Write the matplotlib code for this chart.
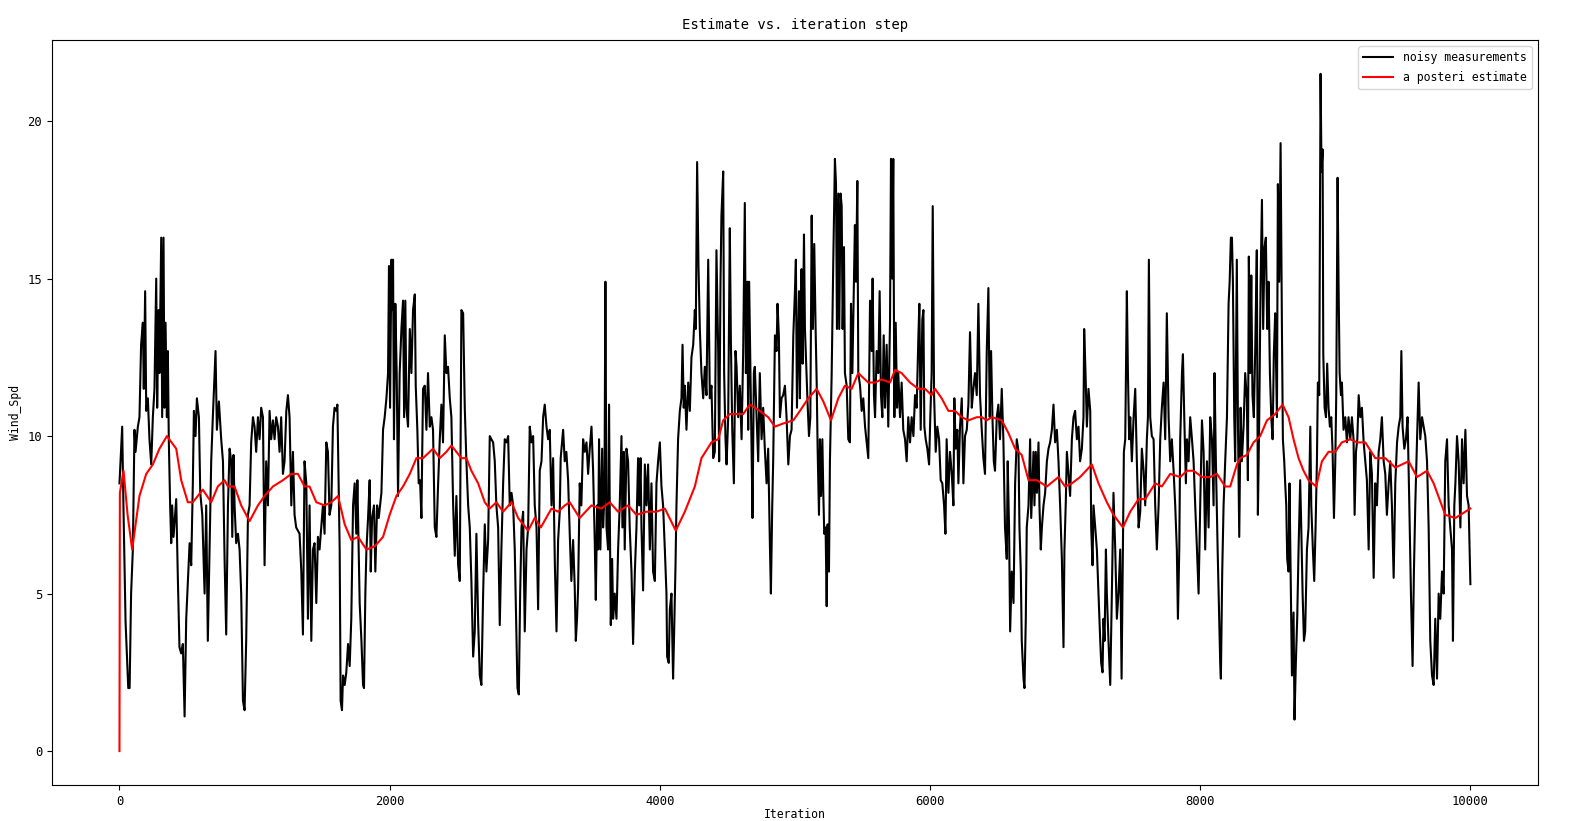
import matplotlib
matplotlib.use("Agg")
import matplotlib.pyplot as plt

plt.rcParams['font.family'] = ['DejaVu Sans Mono']
plt.rcParams['font.size'] = 8.3
plt.rcParams['xtick.labelsize'] = 8.8
plt.rcParams['ytick.labelsize'] = 8.8

noisy_points = [
    (0, 8.5), (20, 10.3), (30, 7.6), (45, 4.1), (65, 2.0), (75, 2.0), (86, 5.0), (99, 6.4),
    (111, 10.2), (119, 9.5), (136, 10.3), (148, 10.6), (160, 12.9), (173, 13.6), (180, 11.5),
    (190, 14.6), (198, 10.8), (210, 11.2), (222, 9.9), (235, 9.1), (247, 10.6), (259, 11.5),
    (272, 15.0), (279, 10.9), (289, 14.0), (296, 12.0), (309, 16.3), (316, 10.6), (326, 16.3),
    (333, 10.9), (341, 13.6), (351, 10.6), (358, 12.7), (365, 9.9), (375, 7.8), (383, 6.6),
    (390, 7.8), (400, 6.8), (420, 8.0), (432, 5.5), (444, 3.3), (457, 3.1), (469, 3.4),
    (482, 1.1), (494, 4.2), (519, 6.6), (531, 5.9), (543, 8.5), (551, 10.8), (563, 10.0),
    (573, 11.2), (588, 10.6), (598, 8.2), (613, 7.5), (630, 5.0), (642, 7.8), (654, 3.5),
    (667, 6.4), (679, 9.2), (691, 10.6), (711, 12.7), (721, 10.2), (736, 11.1), (753, 9.9),
    (766, 9.2), (778, 6.1), (790, 3.7), (803, 7.8), (815, 9.6), (827, 9.2), (835, 6.8),
    (844, 9.4), (852, 7.8), (864, 6.6), (877, 6.9), (889, 6.4), (901, 5.0), (914, 1.6),
    (926, 1.3), (938, 3.5), (951, 7.5), (963, 7.8), (975, 9.8), (988, 10.6), (1000, 10.3),
    (1012, 9.5), (1025, 10.6), (1037, 9.9), (1049, 10.9), (1062, 10.6), (1074, 5.9),
    (1086, 9.2), (1099, 7.8), (1111, 10.8), (1123, 9.9), (1136, 10.5), (1148, 9.9),
    (1160, 10.6), (1173, 10.3), (1185, 9.5), (1197, 10.6), (1210, 8.8), (1222, 9.2),
    (1235, 10.8), (1247, 11.3), (1259, 10.6), (1272, 7.8), (1284, 9.5), (1296, 7.5),
    (1308, 7.1), (1333, 6.9), (1346, 5.7), (1358, 3.7), (1370, 9.2), (1383, 8.5), (1395, 4.2),
    (1407, 7.8), (1420, 3.5), (1432, 6.4), (1444, 6.6), (1457, 4.7), (1469, 6.8), (1481, 6.4),
    (1506, 7.8), (1518, 6.9), (1531, 9.8), (1543, 9.5), (1555, 7.5), (1568, 7.8), (1580, 10.3),
    (1592, 10.9), (1605, 10.8), (1613, 11.0), (1630, 6.4), (1637, 1.6), (1647, 1.3),
    (1655, 2.4), (1667, 2.1), (1679, 2.5), (1692, 3.4), (1704, 2.7), (1716, 4.2), (1729, 7.8),
    (1741, 8.5), (1753, 6.9), (1761, 8.6), (1771, 6.4), (1778, 4.7), (1791, 3.5), (1803, 2.1),
    (1810, 2.0), (1820, 5.0), (1828, 6.4), (1840, 7.4), (1852, 8.6), (1860, 5.7), (1870, 7.4),
    (1884, 7.8), (1894, 5.7), (1907, 7.8), (1919, 7.4), (1939, 8.2), (1951, 10.2), (1963, 10.6),
    (1976, 11.2), (1988, 12.0), (1995, 15.4), (2003, 10.9), (2013, 15.6), (2020, 14.0),
    (2025, 15.6), (2032, 9.9), (2042, 14.2), (2052, 12.0), (2062, 8.1), (2074, 12.0),
    (2087, 13.4), (2099, 14.3), (2107, 10.6), (2116, 14.3), (2124, 10.9), (2136, 10.3),
    (2149, 13.4), (2161, 12.0), (2173, 14.0), (2186, 14.5), (2193, 11.6), (2205, 10.2),
    (2215, 8.5), (2225, 8.6), (2235, 7.4), (2247, 11.5), (2260, 11.6), (2272, 10.2),
    (2284, 12.0), (2297, 10.3), (2309, 10.6), (2321, 10.2), (2334, 7.1), (2346, 6.8),
    (2358, 8.4), (2371, 9.9), (2383, 11.0), (2395, 9.8), (2408, 13.2), (2420, 12.0),
    (2432, 12.2), (2445, 11.2), (2457, 10.6), (2470, 7.8), (2482, 6.2), (2494, 8.1),
    (2507, 5.9), (2519, 5.4), (2531, 14.0), (2544, 13.9), (2556, 10.9), (2568, 9.2),
    (2581, 7.8), (2593, 7.1), (2605, 5.4), (2618, 3.0), (2630, 3.8), (2642, 6.9), (2655, 4.1),
    (2667, 2.4), (2679, 2.1), (2692, 5.0), (2704, 7.2), (2716, 5.7), (2729, 6.7), (2741, 10.0),
    (2753, 9.9), (2766, 9.8), (2778, 9.2), (2790, 7.8), (2803, 7.1), (2815, 4.0), (2827, 6.4),
    (2840, 8.5), (2852, 9.9), (2865, 9.8), (2877, 10.0), (2889, 7.8), (2902, 8.2), (2914, 7.8),
    (2926, 6.4), (2939, 3.5), (2946, 2.0), (2956, 1.8), (2966, 5.0), (2976, 7.1), (2988, 7.6),
    (3000, 3.8), (3013, 6.4), (3025, 7.1), (3037, 10.3), (3050, 9.8), (3062, 10.0), (3074, 7.8),
    (3087, 7.1), (3099, 4.5), (3111, 8.9), (3124, 9.2), (3136, 10.6), (3148, 11.0),
    (3161, 10.3), (3173, 9.9), (3185, 10.2), (3198, 7.8), (3210, 9.3), (3223, 5.9),
    (3235, 3.8), (3247, 6.7), (3259, 7.6), (3266, 9.3), (3284, 10.2), (3296, 9.2), (3308, 9.5),
    (3321, 8.6), (3333, 6.9), (3345, 5.4), (3358, 6.7), (3370, 5.2), (3378, 3.5), (3387, 4.2),
    (3395, 5.2), (3407, 8.5), (3419, 7.8), (3432, 9.9), (3444, 9.5), (3457, 9.8), (3469, 8.8),
    (3481, 9.6), (3494, 10.3), (3506, 8.9), (3518, 6.7), (3526, 4.8), (3536, 7.8), (3543, 6.4),
    (3550, 9.9), (3560, 6.4), (3573, 9.6), (3580, 7.1), (3590, 8.1), (3597, 14.9), (3605, 7.1),
    (3617, 6.4), (3624, 11.0), (3629, 7.8), (3637, 4.0), (3647, 6.1), (3654, 4.2), (3666, 5.0),
    (3679, 4.2), (3691, 6.4), (3703, 7.8), (3716, 10.0), (3723, 7.1), (3733, 9.5), (3740, 6.4),
    (3753, 9.6), (3765, 9.2), (3777, 7.1), (3790, 5.7), (3802, 3.4), (3815, 5.7), (3827, 7.1),
    (3839, 9.3), (3847, 7.8), (3857, 9.3), (3864, 7.1), (3876, 5.1), (3889, 9.1), (3901, 7.8),
    (3913, 9.1), (3926, 6.4), (3938, 8.5), (3950, 5.7), (3963, 5.4), (3975, 8.5), (3987, 9.2),
    (4000, 9.8), (4012, 8.4), (4024, 7.8), (4037, 6.4), (4049, 5.0), (4054, 3.0), (4066, 2.8),
    (4074, 4.5), (4086, 5.0), (4098, 2.3), (4106, 3.8), (4116, 5.9), (4123, 7.8), (4135, 9.9),
    (4148, 10.8), (4160, 11.2), (4168, 12.9), (4177, 10.9), (4185, 11.6), (4197, 10.2),
    (4210, 11.7), (4222, 10.8), (4234, 12.5), (4247, 12.9), (4259, 14.0), (4266, 13.4),
    (4276, 18.7), (4286, 15.4), (4296, 13.4), (4308, 12.0), (4321, 11.2), (4333, 12.2),
    (4345, 11.3), (4358, 15.6), (4370, 11.2), (4382, 11.6), (4395, 9.3), (4407, 9.5),
    (4419, 15.9), (4432, 12.7), (4439, 9.2), (4449, 14.9), (4456, 17.0), (4469, 18.4),
    (4476, 12.0), (4486, 9.9), (4494, 9.1), (4506, 10.6), (4518, 16.6), (4526, 13.0),
    (4536, 10.2), (4548, 8.5), (4560, 12.7), (4568, 12.2), (4580, 10.6), (4592, 11.6),
    (4605, 9.9), (4617, 12.7), (4629, 17.4), (4637, 12.0), (4647, 14.9), (4654, 10.2),
    (4661, 14.9), (4671, 12.0), (4679, 9.6), (4686, 7.4), (4696, 12.0), (4703, 12.2),
    (4716, 10.6), (4728, 9.2), (4740, 12.0), (4753, 9.9), (4765, 10.9), (4777, 9.6),
    (4790, 8.5), (4802, 9.6), (4814, 6.7), (4822, 5.0), (4832, 7.8), (4839, 9.2), (4852, 13.2),
    (4864, 12.7), (4871, 14.2), (4881, 13.2), (4889, 10.6), (4901, 11.2), (4913, 11.3),
    (4926, 11.6), (4938, 10.6), (4951, 9.1), (4963, 10.0), (4975, 10.2), (4988, 13.2),
    (5000, 14.6), (5007, 15.6), (5015, 10.9), (5025, 13.4), (5030, 14.6), (5037, 11.2),
    (5045, 14.6), (5049, 15.3), (5057, 12.3), (5067, 16.4), (5074, 13.4), (5086, 11.9),
    (5094, 11.0), (5104, 10.0), (5114, 10.6), (5124, 17.0), (5133, 13.4), (5143, 16.1),
    (5153, 13.4), (5161, 11.7), (5168, 9.6), (5178, 7.5), (5185, 9.9), (5193, 8.1), (5203, 9.9),
    (5210, 8.2), (5217, 6.9), (5227, 7.1), (5235, 4.6), (5242, 7.2), (5252, 5.7), (5259, 9.2),
    (5272, 12.0), (5284, 15.6), (5296, 18.8), (5304, 18.0), (5311, 13.4), (5321, 17.7),
    (5328, 13.4), (5338, 17.7), (5346, 17.3), (5353, 13.4), (5363, 16.0), (5370, 12.0),
    (5383, 11.6), (5395, 9.9), (5407, 9.8), (5415, 14.2), (5425, 12.0), (5432, 13.7),
    (5444, 16.7), (5452, 14.9), (5462, 18.1), (5469, 12.0), (5482, 11.6), (5494, 10.8),
    (5506, 11.2), (5519, 10.3), (5531, 9.8), (5543, 9.3), (5556, 14.3), (5568, 12.7),
    (5575, 15.0), (5585, 11.3), (5593, 10.6), (5605, 12.7), (5617, 12.0), (5627, 14.6),
    (5637, 11.3), (5647, 10.6), (5657, 13.2), (5667, 10.9), (5679, 12.9), (5691, 10.3),
    (5704, 13.7), (5711, 18.8), (5720, 15.0), (5728, 18.8), (5736, 10.6), (5746, 13.6),
    (5756, 10.9), (5765, 12.0), (5778, 10.6), (5790, 11.7), (5802, 10.2), (5815, 9.9),
    (5827, 9.2), (5839, 10.6), (5852, 9.8), (5864, 10.6), (5877, 10.0), (5889, 11.3),
    (5901, 10.9), (5914, 13.2), (5921, 14.2), (5931, 10.2), (5943, 13.7), (5951, 14.0),
    (5958, 10.3), (5968, 9.9), (5980, 9.6), (5993, 9.1), (6002, 10.6), (6012, 12.0),
    (6020, 17.3), (6030, 11.3), (6042, 9.5), (6054, 10.3), (6067, 9.9), (6079, 8.6),
    (6091, 8.5), (6104, 7.8), (6114, 6.9), (6123, 9.9), (6136, 8.2), (6148, 9.5), (6161, 8.8),
    (6173, 7.8), (6180, 11.2), (6190, 9.6), (6202, 10.2), (6210, 8.5), (6222, 10.3),
    (6235, 11.2), (6247, 8.5), (6259, 10.0), (6272, 10.2), (6284, 11.0), (6296, 13.3),
    (6309, 10.9), (6321, 11.5), (6333, 12.0), (6346, 11.3), (6358, 14.2), (6370, 11.3),
    (6383, 10.2), (6395, 9.3), (6407, 8.8), (6420, 12.7), (6432, 14.7), (6442, 10.6),
    (6452, 12.7), (6462, 10.6), (6472, 9.2), (6481, 8.9), (6494, 10.6), (6506, 11.0),
    (6518, 9.9), (6531, 11.5), (6543, 9.9), (6555, 7.1), (6568, 6.1), (6575, 9.2), (6585, 7.1),
    (6593, 3.8), (6605, 5.7), (6618, 4.7), (6630, 8.5), (6642, 9.9), (6655, 9.5), (6662, 7.1),
    (6672, 5.7), (6679, 3.5), (6692, 2.3), (6699, 2.0), (6709, 4.2), (6716, 7.1), (6729, 7.8),
    (6741, 9.9), (6749, 7.4), (6758, 8.5), (6766, 9.5), (6773, 7.8), (6783, 9.5), (6791, 8.2),
    (6803, 9.8), (6810, 7.8), (6820, 6.4), (6828, 7.1), (6840, 7.8), (6852, 8.2), (6865, 9.2),
    (6877, 9.6), (6889, 9.8), (6902, 10.2), (6914, 11.0), (6926, 9.8), (6939, 10.2),
    (6951, 9.2), (6963, 7.8), (6976, 6.1), (6988, 3.3), (6995, 6.4), (7005, 7.9), (7013, 9.5),
    (7025, 8.8), (7037, 8.1), (7050, 9.9), (7062, 10.6), (7074, 10.8), (7087, 9.9),
    (7099, 10.3), (7111, 9.2), (7124, 9.6), (7136, 10.6), (7141, 13.4), (7151, 12.0),
    (7161, 10.3), (7173, 11.5), (7186, 10.8), (7193, 7.1), (7203, 5.9), (7210, 7.8),
    (7223, 7.1), (7235, 6.4), (7247, 5.0), (7260, 3.5), (7267, 2.8), (7277, 2.5), (7284, 4.2),
    (7292, 3.5), (7302, 6.4), (7309, 5.0), (7321, 3.5), (7334, 2.1), (7346, 5.0), (7358, 8.2),
    (7371, 6.4), (7383, 4.2), (7395, 5.0), (7408, 6.4), (7418, 2.3), (7428, 6.4), (7435, 9.5),
    (7445, 9.9), (7457, 14.6), (7465, 12.0), (7474, 9.9), (7482, 10.6), (7494, 9.2),
    (7507, 10.6), (7519, 11.5), (7531, 9.2), (7544, 7.1), (7556, 7.6), (7568, 9.6), (7581, 8.9),
    (7593, 7.8), (7605, 9.9), (7613, 10.6), (7620, 15.6), (7630, 10.6), (7642, 10.0),
    (7655, 9.9), (7667, 7.8), (7679, 6.4), (7692, 7.8), (7704, 9.9), (7716, 10.9), (7729, 11.7),
    (7741, 9.9), (7753, 13.9), (7766, 10.6), (7778, 9.2), (7790, 9.9), (7803, 8.9), (7815, 7.8),
    (7827, 6.4), (7835, 4.2), (7845, 6.4), (7852, 9.9), (7865, 12.0), (7872, 12.6),
    (7882, 10.6), (7894, 8.5), (7902, 9.9), (7914, 9.2), (7926, 10.6), (7939, 9.9), (7951, 9.2),
    (7963, 7.8), (7976, 6.4), (7988, 5.0), (8000, 7.8), (8013, 10.5), (8025, 9.5), (8037, 6.4),
    (8050, 9.2), (8062, 7.1), (8074, 10.6), (8087, 9.9), (8099, 7.8), (8106, 12.0), (8116, 9.2),
    (8129, 6.4), (8141, 4.2), (8148, 2.8), (8153, 2.3), (8163, 5.7), (8173, 7.8), (8185, 9.2),
    (8198, 10.6), (8210, 14.2), (8218, 14.9), (8227, 16.3), (8235, 16.3), (8242, 14.9),
    (8252, 10.6), (8259, 9.2), (8271, 15.6), (8279, 10.6), (8289, 6.8), (8299, 10.9),
    (8308, 9.2), (8321, 10.3), (8333, 12.0), (8345, 11.2), (8353, 8.6), (8360, 15.7),
    (8370, 12.0), (8378, 15.1), (8387, 11.3), (8397, 10.6), (8407, 12.7), (8419, 15.9),
    (8427, 7.5), (8437, 10.6), (8447, 14.9), (8457, 17.5), (8466, 13.4), (8476, 16.0),
    (8486, 16.3), (8496, 13.4), (8506, 14.9), (8516, 12.0), (8526, 10.6), (8536, 9.9),
    (8545, 12.6), (8555, 13.9), (8568, 10.6), (8575, 18.0), (8585, 14.9), (8595, 19.3),
    (8605, 13.4), (8612, 9.9), (8622, 9.2), (8629, 8.5), (8637, 7.8), (8644, 6.1), (8654, 5.7),
    (8661, 8.5), (8671, 5.0), (8679, 2.4), (8691, 4.4), (8698, 1.0), (8708, 2.8), (8718, 4.2),
    (8728, 6.4), (8740, 8.6), (8748, 7.1), (8758, 5.0), (8768, 3.5), (8777, 3.8), (8790, 6.4),
    (8802, 7.1), (8815, 10.3), (8822, 7.8), (8834, 6.4), (8844, 5.4), (8854, 7.1), (8864, 9.2),
    (8871, 11.7), (8881, 11.3), (8891, 21.5), (8898, 18.4), (8906, 19.1), (8911, 12.6),
    (8921, 10.9), (8931, 10.6), (8940, 12.3), (8950, 10.9), (8960, 10.3), (8970, 10.6),
    (8980, 9.5), (8990, 7.4), (9000, 9.2), (9007, 11.3), (9017, 18.2), (9024, 14.9),
    (9032, 12.0), (9042, 11.3), (9049, 11.7), (9061, 10.2), (9074, 10.6), (9086, 9.8),
    (9098, 10.6), (9111, 9.9), (9123, 10.6), (9135, 9.9), (9143, 7.5), (9153, 9.5), (9163, 9.9),
    (9173, 11.3), (9185, 10.6), (9197, 10.9), (9210, 9.8), (9222, 9.2), (9234, 8.6),
    (9247, 6.4), (9259, 9.5), (9271, 8.8), (9284, 5.5), (9296, 8.5), (9308, 7.8), (9321, 9.5),
    (9333, 9.9), (9345, 10.6), (9358, 9.2), (9370, 8.8), (9382, 7.5), (9395, 8.5), (9407, 9.2),
    (9419, 7.8), (9432, 5.5), (9444, 8.5), (9457, 9.8), (9469, 10.3), (9481, 10.6),
    (9489, 12.7), (9498, 10.3), (9511, 9.6), (9523, 9.9), (9535, 10.6), (9548, 7.8),
    (9560, 5.0), (9572, 2.7), (9582, 5.7), (9592, 7.8), (9605, 9.9), (9617, 11.7), (9629, 9.9),
    (9642, 10.6), (9654, 10.3), (9666, 10.0), (9679, 9.2), (9691, 7.1), (9703, 3.5),
    (9716, 2.4), (9728, 2.1), (9740, 4.2), (9753, 2.3), (9765, 5.0), (9777, 4.2), (9790, 5.7),
    (9802, 5.0), (9814, 9.2), (9827, 9.9), (9839, 7.8), (9851, 7.1), (9864, 6.4), (9871, 3.5),
    (9881, 7.8), (9889, 8.5), (9901, 10.0), (9913, 9.2), (9926, 7.1), (9938, 9.9), (9950, 8.5),
    (9963, 10.2), (9975, 8.1), (9987, 7.8), (10000, 5.3),
]

# a posteriori estimate: (iteration, wind speed)
estimate_points = [
    (0, 0.0), (3, 8.2), (30, 8.9), (60, 7.5), (94, 6.4), (148, 8.1), (198, 8.8), (247, 9.1),
    (296, 9.6), (351, 10.0), (420, 9.6), (457, 8.6), (506, 7.9), (543, 7.9), (617, 8.3),
    (679, 7.9), (728, 8.4), (778, 8.6), (803, 8.4), (852, 8.4), (901, 7.8), (963, 7.3),
    (1025, 7.8), (1074, 8.1), (1136, 8.4), (1210, 8.6), (1272, 8.8), (1321, 8.8), (1370, 8.4),
    (1407, 8.4), (1457, 7.9), (1518, 7.8), (1568, 7.9), (1618, 8.1), (1667, 7.2), (1716, 6.7),
    (1766, 6.8), (1828, 6.4), (1889, 6.5), (1951, 6.8), (2000, 7.5), (2050, 8.1), (2099, 8.4),
    (2149, 8.8), (2198, 9.3), (2247, 9.3), (2321, 9.6), (2371, 9.3), (2420, 9.5), (2457, 9.7),
    (2494, 9.5), (2531, 9.3), (2568, 9.3), (2605, 8.9), (2655, 8.5), (2704, 7.9), (2741, 7.7),
    (2790, 7.9), (2840, 7.6), (2902, 7.9), (2951, 7.4), (3025, 7.0), (3074, 7.4), (3119, 7.1),
    (3198, 7.7), (3247, 7.6), (3297, 7.8), (3333, 7.9), (3407, 7.4), (3494, 7.8), (3568, 7.7),
    (3629, 7.9), (3691, 7.6), (3765, 7.8), (3827, 7.5), (3901, 7.6), (3975, 7.6), (4037, 7.7),
    (4118, 7.0), (4185, 7.6), (4259, 8.4), (4308, 9.3), (4382, 9.8), (4432, 9.9), (4469, 10.5),
    (4518, 10.7), (4568, 10.7), (4617, 10.7), (4666, 11.0), (4740, 10.8), (4802, 10.6),
    (4852, 10.3), (4913, 10.4), (4988, 10.5), (5037, 10.8), (5099, 11.2), (5161, 11.5),
    (5210, 11.1), (5267, 10.5), (5321, 11.2), (5370, 11.6), (5420, 11.5), (5469, 12.0),
    (5543, 11.7), (5593, 11.7), (5642, 11.8), (5704, 11.7), (5741, 12.1), (5790, 12.0),
    (5852, 11.7), (5914, 11.5), (5963, 11.5), (6012, 11.3), (6037, 11.5), (6086, 11.2),
    (6136, 10.8), (6185, 10.8), (6235, 10.6), (6284, 10.5), (6346, 10.6), (6383, 10.6),
    (6420, 10.5), (6457, 10.6), (6531, 10.5), (6580, 10.1), (6630, 9.6), (6679, 9.4),
    (6729, 8.6), (6790, 8.6), (6865, 8.4), (6951, 8.7), (7000, 8.4), (7050, 8.5), (7111, 8.7),
    (7198, 9.1), (7247, 8.5), (7309, 7.9), (7358, 7.5), (7428, 7.1), (7482, 7.6), (7544, 8.0),
    (7593, 8.0), (7667, 8.5), (7716, 8.4), (7778, 8.8), (7852, 8.7), (7902, 8.9), (7951, 8.9),
    (8013, 8.7), (8074, 8.7), (8124, 8.8), (8185, 8.4), (8222, 8.4), (8272, 9.1), (8296, 9.3),
    (8345, 9.4), (8395, 9.8), (8444, 10.0), (8494, 10.5), (8555, 10.7), (8610, 11.0),
    (8654, 10.6), (8691, 9.9), (8728, 9.3), (8765, 8.9), (8802, 8.6), (8859, 8.4), (8901, 9.2),
    (8950, 9.5), (8999, 9.5), (9049, 9.8), (9111, 9.9), (9160, 9.8), (9222, 9.8), (9296, 9.3),
    (9370, 9.3), (9444, 9.0), (9543, 9.2), (9605, 8.7), (9679, 8.9), (9728, 8.5), (9814, 7.5),
    (9889, 7.4), (9963, 7.6), (10000, 7.7),
]

noisy_iter, noisy_val = zip(*noisy_points)
est_iter, est_val = zip(*estimate_points)

fig = plt.figure(figsize=(15.69, 8.21), dpi=100)
ax = fig.add_subplot(111)
fig.subplots_adjust(left=0.0331, right=0.9802, top=0.9513, bottom=0.0439)

ax.plot(noisy_iter, noisy_val, color='black', label='noisy measurements')
ax.plot(est_iter, est_val, color='red', label='a posteri estimate')
ax.legend(loc='upper right', handlelength=2.6, handletextpad=0.9, labelspacing=0.65,
          borderaxespad=0.55)
ax.set_title('Estimate vs. iteration step', fontsize=10, pad=8)
ax.set_xlabel('Iteration', labelpad=0.5)
ax.set_ylabel('Wind_Spd')

fig.savefig('out.png', dpi=100)
